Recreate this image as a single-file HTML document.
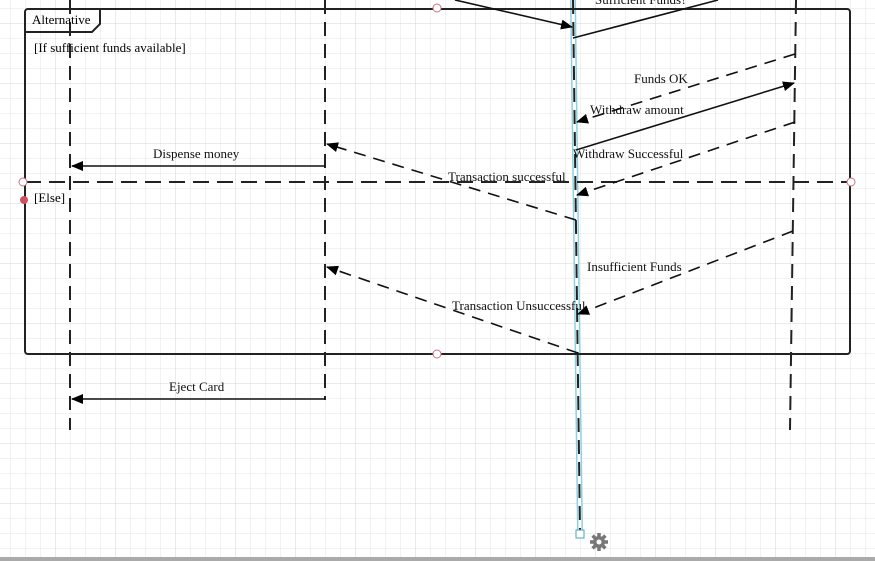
<!DOCTYPE html>
<html><head><meta charset="utf-8"><style>
html,body{margin:0;padding:0;background:#fff;}
svg{display:block;font-family:"Liberation Serif",serif;}
</style></head><body>
<svg width="875" height="561" viewBox="0 0 875 561" xmlns="http://www.w3.org/2000/svg">
<defs>
<pattern id="g" x="10" y="8" width="15" height="15" patternUnits="userSpaceOnUse">
<path d="M0 0H15M0 0V15" stroke="#e6e6e6" stroke-width="1" fill="none"/>
</pattern>
<pattern id="G" x="55" y="23" width="60" height="60" patternUnits="userSpaceOnUse">
<path d="M0 0H60M0 0V60" stroke="#d4d4d4" stroke-width="1" fill="none"/>
</pattern>
<marker id="a" markerWidth="12" markerHeight="10" refX="11" refY="5" orient="auto" markerUnits="userSpaceOnUse">
<path d="M0 0L12 5L0 10Z" fill="#000"/>
</marker>
</defs>
<rect width="875" height="561" fill="url(#g)"/>
<rect width="875" height="561" fill="url(#G)"/>
<rect x="0" y="557" width="875" height="4" fill="#aaa"/>

<!-- lifelines -->
<g stroke="#222" stroke-width="2" stroke-dasharray="14,8" fill="none">
<line x1="70" y1="0" x2="70" y2="430"/>
<line x1="325" y1="0" x2="325" y2="400"/>
<line x1="796" y1="0" x2="790" y2="430"/>
</g>
<!-- selected lifeline -->
<line x1="573" y1="0" x2="580" y2="532" stroke="#8fd0e0" stroke-width="6"/>
<line x1="573" y1="0" x2="580" y2="532" stroke="#fff" stroke-width="3"/>
<line x1="573" y1="0" x2="580" y2="532" stroke="#222" stroke-width="2" stroke-dasharray="14,8"/>
<rect x="576" y="530" width="8" height="8" fill="#fff" stroke="#4aa3c0" stroke-width="1"/>
<g transform="translate(599,542)" fill="#777">
<circle r="6"/>
<g stroke="#777" stroke-width="3.5">
<line x1="0" y1="-9" x2="0" y2="9"/><line x1="-9" y1="0" x2="9" y2="0"/>
<line x1="-6.4" y1="-6.4" x2="6.4" y2="6.4"/><line x1="-6.4" y1="6.4" x2="6.4" y2="-6.4"/>
</g>
<circle r="2.5" fill="#fff"/>
</g>

<!-- alt frame -->
<rect x="25" y="9" width="825" height="345" rx="3" fill="none" stroke="#222" stroke-width="2"/>
<path d="M25 32H92L100 24V9" fill="none" stroke="#222" stroke-width="2"/>
<text x="32" y="24" font-size="13">Alternative</text>
<text x="34" y="52" font-size="13">[If sufficient funds available]</text>
<text x="34" y="202" font-size="13">[Else]</text>
<line x1="25" y1="182" x2="850" y2="182" stroke="#222" stroke-width="2" stroke-dasharray="16,8"/>
<g fill="#fff" stroke="#d07080" stroke-width="1">
<circle cx="437" cy="8" r="4"/><circle cx="437" cy="354" r="4"/>
<circle cx="23" cy="182" r="4"/><circle cx="851" cy="182" r="4"/>
</g>
<circle cx="24" cy="200" r="4" fill="#d05060"/>

<!-- messages -->
<g stroke="#111" stroke-width="1.6" fill="none">
<line x1="455" y1="0" x2="572" y2="27" marker-end="url(#a)"/>
<line x1="573" y1="38" x2="718" y2="0"/>
<line x1="576" y1="150" x2="794" y2="83" marker-end="url(#a)"/>
<line x1="325" y1="166" x2="72" y2="166" marker-end="url(#a)"/>
<line x1="325" y1="399" x2="72" y2="399" marker-end="url(#a)"/>
</g>
<g stroke="#111" stroke-width="1.6" fill="none" stroke-dasharray="12,8">
<line x1="795" y1="54" x2="577" y2="122" marker-end="url(#a)"/>
<line x1="795" y1="122" x2="577" y2="195" marker-end="url(#a)"/>
<line x1="576" y1="220" x2="327" y2="144" marker-end="url(#a)"/>
<line x1="793" y1="231" x2="578" y2="314" marker-end="url(#a)"/>
<line x1="578" y1="353" x2="327" y2="267" marker-end="url(#a)"/>
</g>
<g font-size="13" fill="#111">
<text x="595" y="4">Sufficient Funds?</text>
<text x="634" y="83">Funds OK</text>
<text x="590" y="114">Withdraw amount</text>
<text x="573" y="158">Withdraw Successful</text>
<text x="448" y="181">Transaction successful</text>
<text x="153" y="158">Dispense money</text>
<text x="587" y="271">Insufficient Funds</text>
<text x="452" y="310">Transaction Unsuccessful</text>
<text x="169" y="391">Eject Card</text>
</g>
</svg>
</body></html>
